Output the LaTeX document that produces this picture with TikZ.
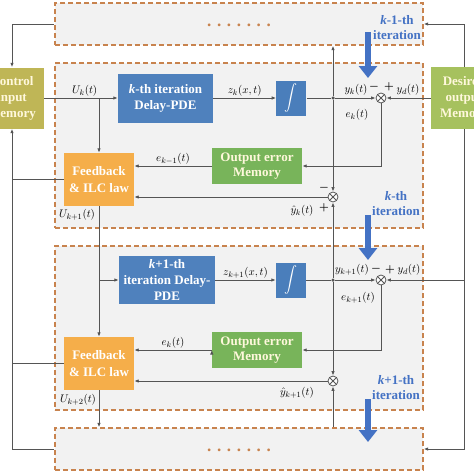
\documentclass[tikz,border=0pt]{standalone}
\usepackage{amsmath, amsfonts}
\usepackage{fontspec}
\setmainfont{Liberation Serif}
\usepackage{tikz}
\usetikzlibrary{positioning, arrows.meta}
\definecolor{stagegray}{HTML}{F2F2F2}
\definecolor{dashbrown}{HTML}{C8834E}
\definecolor{pdeblue}{HTML}{4F81BD}
\definecolor{intblue}{HTML}{4A7EBB}
\definecolor{laworange}{HTML}{F5AE4A}
\definecolor{errgreen}{HTML}{78B45A}
\definecolor{ctrlolive}{HTML}{BFB656}
\definecolor{desgreen}{HTML}{A6C15E}
\definecolor{iterblue}{HTML}{4472C4}
\definecolor{wiregray}{HTML}{555555}
\definecolor{cream}{HTML}{FFF8DC}
\tikzset{stage/.style={draw=dashbrown,dash pattern=on 5pt off 3pt,fill=stagegray,line width=1.3pt,minimum width=368pt,inner sep=0pt},
	box node/.style={inner sep=1pt,align=center,font=\fontsize{13}{16}\selectfont\bfseries,text=white},
	pde node/.style={box node,fill=pdeblue,minimum width=95pt,minimum height=49pt},
	int node/.style={box node,fill=intblue,minimum width=30pt,minimum height=35pt},
	law node/.style={box node,fill=laworange,minimum width=70pt,minimum height=53pt,font=\fontsize{13}{17}\selectfont\bfseries},
	err node/.style={box node,fill=errgreen,minimum width=90pt,minimum height=36pt,font=\fontsize{13}{15}\selectfont\bfseries,text=cream},
	mem node/.style={box node,minimum width=64pt,minimum height=61pt,text=cream},
	sum node/.style={circle,draw=wiregray,fill=white,line width=0.8pt,minimum size=10pt,inner sep=0pt,
		path picture={\draw[wiregray,line width=0.8pt] (path picture bounding box.north west) -- (path picture bounding box.south east)
			(path picture bounding box.south west) -- (path picture bounding box.north east);}},
	tap/.style={circle,fill=wiregray,inner sep=0pt,minimum size=3.5pt},
	wire/.style={draw=wiregray,line width=0.9pt},
	lab/.style={font=\fontsize{11}{13}\selectfont,inner sep=1pt},
	iter/.style={align=center,text=iterblue,inner sep=0pt,font=\fontsize{13}{15}\selectfont\bfseries},
	more/.style={text=dashbrown,inner sep=0pt,font=\fontsize{17}{17}\selectfont\bfseries},
	big arrow/.style={draw=iterblue,line width=6pt,-{Triangle[length=12pt,width=18pt]}},
}

\begin{document}
\begin{tikzpicture}[x=1pt,y=-1pt,>={Latex[length=4.5pt,width=3.5pt]}]
	\useasboundingbox (0,0) rectangle (474,474);
	\clip (0,0) rectangle (474,474);
	
	\node[stage,minimum height=42pt] (s0) at (239,24) {};
	\node[stage,minimum height=165pt] (s1) at (239,145.5) {};
	\node[stage,minimum height=164pt] (s2) at (239,328) {};
	\node[stage,minimum height=42pt] (s3) at (239,449) {};
	\node[more] (m0) at (239,25) {. . . . . . .};
	\node[more] (m3) at (239,450) {. . . . . . .};
	
	\node[mem node,fill=ctrlolive] (cm) at (12,98) {Control\\input\\Memory};
	\node[mem node,fill=desgreen,minimum width=66pt,minimum height=62pt] (dm) at (464,98) {Desired\\output\\Memory};
	
	\node[pde node] (p1) at (165.5,98) {\textit{k}-th iteration\\Delay-PDE};
	\node[int node] (i1) [right = 63pt of p1] {$\displaystyle\int$};
	\node[tap] (d1) at (333,98) {};
	\node[sum node] (q1) at (381,98) {};
	\node[law node] (f1) at (99,179.5) {Feedback\\\& ILC law};
	\node[err node] (e1) at (257,166) {Output error\\Memory};
	\node[sum node] (h1) at (333,197) {};
	\coordinate (b1) at (99,98);
	
	\node[pde node,minimum width=96pt,minimum height=48pt,inner sep=0pt] (p2) at (167,280) {\textit{k}+1-th\\iteration Delay-\\PDE};
	\node[int node] (i2) at (291,280) {$\displaystyle\int$};
	\node[tap] (d2) at (333,280) {};
	\node[sum node] (q2) at (381,280) {};
	\node[law node] (f2) at (99,363.5) {Feedback\\\& ILC law};
	\node[err node] (e2) at (257,350) {Output error\\Memory};
	\node[sum node] (h2) at (333,381) {};
	\coordinate (b2) at (99,280);
	
	\path[wire,->]
	(cm) edge node[lab,above,pos=0.55] {$U_k(t)$} (p1)
	(b1) edge (f1)
	(p1) edge node[lab,above] {$z_k(x,t)$} (i1)
	(d1) edge (q1)
	(dm) edge (q1)
	(d1) edge (s0.south -| d1)
	(d1) edge (h1)
	(d2) edge (h1)
	(e1.west) edge node[lab,above] {$e_{k-1}(t)$} (f1.east |- e1.west)
	(h1) edge (f1.east |- h1)
	(f1) edge (f2)
	(b2) edge (p2)
	(p2) edge node[lab,above] {$z_{k+1}(x,t)$} (i2)
	(d2) edge (q2)
	(q2 -| dm) edge (q2)
	(d2) edge (h2)
	(s3.north -| h2) edge (h2)
	(e2.west) edge node[lab,above] {$e_k(t)$} (f2.east |- e2.west)
	(h2) edge (f2.east |- h2)
	(f2) edge (s3.north -| f2)
	;
	\path[wire]
	(i1) edge (d1)
	(i2) edge (d2)
	(f1.west) edge (f1.west -| cm)
	(f2.west) edge (f2.west -| cm)
	;
	\draw[wire,->] (q1) |- (e1);
	\draw[wire,->] (q2) |- (e2);
	\draw[wire,->] (s0.west) -| (cm);
	\draw[wire,->] (s3.west) -| (cm);
	\draw[wire,->] (dm) |- (s0.east);
	\draw[wire,->] (dm) |- (s3.east);
	
	\node[lab] (ly1) at (356,90) {$y_k(t)$};
	\node[lab] (n1) at (374,87) {$\boldsymbol{-}$};
	\node[lab] (pl1) at (389,87) {$\boldsymbol{+}$};
	\node[lab] (yd1) at (408,90) {$y_d(t)$};
	\node[lab] (le1) at (357,115) {$e_k(t)$};
	\node[lab] (lh1) at (302,211) {$\hat{y}_k(t)$};
	\node[lab] (n2) at (324,188) {$\boldsymbol{-}$};
	\node[lab] (pl2) at (324,208) {$\boldsymbol{+}$};
	\node[lab] (lu2) at (77,215) {$U_{k+1}(t)$};
	\node[lab] (ly2) at (352,270) {$y_{k+1}(t)$};
	\node[lab] (n3) at (376,269) {$\boldsymbol{-}$};
	\node[lab] (pl3) at (390,270) {$\boldsymbol{+}$};
	\node[lab] (yd2) at (409,270) {$y_d(t)$};
	\node[lab] (le2) at (358,298) {$e_{k+1}(t)$};
	\node[lab] (lh2) at (297,393) {$\hat{y}_{k+1}(t)$};
	\node[lab] (lu3) at (78,400) {$U_{k+2}(t)$};
	
	\node[iter] (t0) at (397,28) {\textit{k}-1-th\\iteration};
	\node[iter] (t1) at (396,204) {\textit{k}-th\\iteration};
	\node[iter] (t2) at (396,388) {\textit{k}+1-th\\iteration};
	
	\coordinate (a0) at (368,32);
	\coordinate (a1) at (368,78);
	\coordinate (a2) at (368,215);
	\coordinate (a3) at (368,260);
	\coordinate (a4) at (368,399);
	\coordinate (a5) at (368,442);
	\draw[big arrow] (a0) -- (a1);
	\draw[big arrow] (a2) -- (a3);
	\draw[big arrow] (a4) -- (a5);
\end{tikzpicture}
\end{document}
